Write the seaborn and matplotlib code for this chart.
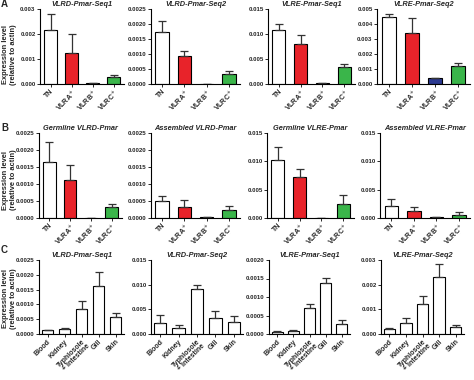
import matplotlib
matplotlib.use("Agg")
import matplotlib.pyplot as plt
import seaborn as sns
import numpy as np
import pandas as pd
from matplotlib.ticker import FormatStrFormatter

# ---------------- data ----------------
cells = ["TN", "VLRA$^{+}$", "VLRB$^{+}$", "VLRC$^{+}$"]
tissues = ["Blood", "Kidney", "Typhlosole\n+ Intestine", "Gill", "Skin"]

# Row A
a1_mean = [0.00215, 0.00125, 0.00003, 0.00028]
a1_err = [0.00065, 0.00075, 0.00001, 0.00007]
a2_mean = [0.00172, 0.00093, 0.0, 0.00033]
a2_err = [0.00038, 0.00018, 0.0, 0.00011]
a3_mean = [0.0109, 0.0080, 0.0002, 0.0035]
a3_err = [0.0010, 0.0018, 0.00005, 0.0006]
a4_mean = [0.00447, 0.0034, 0.00043, 0.00122]
a4_err = [0.00021, 0.00098, 0.0, 0.00021]

# Row B
b1_mean = [0.00166, 0.00112, 0.0, 0.00033]
b1_err = [0.00059, 0.00043, 0.0, 0.00007]
b2_mean = [0.00050, 0.00033, 0.00002, 0.00024]
b2_err = [0.00014, 0.00020, 0.0, 0.00010]
b3_mean = [0.0102, 0.0072, 0.0, 0.0025]
b3_err = [0.0024, 0.0014, 0.0, 0.0015]
b4_mean = [0.0022, 0.0013, 0.0002, 0.0006]
b4_err = [0.0011, 0.0006, 0.0, 0.0004]

# Row C
c1_mean = [0.00012, 0.00017, 0.00083, 0.00163, 0.00058]
c1_err = [0.00002, 0.00002, 0.00028, 0.00048, 0.00014]
c2_mean = [0.0023, 0.0012, 0.0091, 0.0032, 0.0024]
c2_err = [0.0016, 0.0006, 0.0008, 0.0014, 0.0012]
c3_mean = [0.00005, 0.00009, 0.00070, 0.00137, 0.00027]
c3_err = [0.00002, 0.00002, 0.00010, 0.00015, 0.00010]
c4_mean = [0.00022, 0.00045, 0.00122, 0.00230, 0.00028]
c4_err = [0.00002, 0.00021, 0.00031, 0.00053, 0.00008]

titles_a = ["VLRD-Pmar-Seq1", "VLRD-Pmar-Seq2", "VLRE-Pmar-Seq1", "VLRE-Pmar-Seq2"]
titles_b = ["Germline VLRD-Pmar", "Assembled VLRD-Pmar", "Germline VLRE-Pmar", "Assembled VLRE-Pmar"]
titles_c = ["VLRD-Pmar-Seq1", "VLRD-Pmar-Seq2", "VLRE-Pmar-Seq1", "VLRE-Pmar-Seq2"]

# (ymax, step, decimals)
scales_a = [(0.003, 0.001, 3), (0.0025, 0.0005, 4), (0.015, 0.005, 3), (0.005, 0.001, 3)]
scales_b = [(0.0025, 0.0005, 4), (0.0025, 0.0005, 4), (0.015, 0.005, 3), (0.015, 0.005, 3)]
scales_c = [(0.0025, 0.0005, 4), (0.015, 0.005, 3), (0.0020, 0.0005, 4), (0.003, 0.001, 3)]

cell_colors = ["#ffffff", "#e8232a", "#2b3990", "#3ab54a"]
tissue_colors = ["#ffffff"] * 5

# ---------------- figure ----------------
sns.set_theme(style="ticks")
plt.rcParams["font.family"] = ["Liberation Sans", "DejaVu Sans"]
W, H = 474, 380
fig = plt.figure(figsize=(W / 100, H / 100), dpi=100)


def rect(x0, x1, ytop, ybot):
    return [x0 / W, 1 - ybot / H, (x1 - x0) / W, (ybot - ytop) / H]


rows = [
    dict(means=[a1_mean, a2_mean, a3_mean, a4_mean], errs=[a1_err, a2_err, a3_err, a4_err],
         titles=titles_a, scales=scales_a, cats=cells, colors=cell_colors, bw=0.6,
         xs=[(40, 124), (151, 240), (268, 355), (377, 470)], ytop=9, ybot=84,
         letter="A", letter_y=4, label_y=55),
    dict(means=[b1_mean, b2_mean, b3_mean, b4_mean], errs=[b1_err, b2_err, b3_err, b4_err],
         titles=titles_b, scales=scales_b, cats=cells, colors=cell_colors, bw=0.6,
         xs=[(39, 122), (151, 240), (267, 354), (380, 470)], ytop=133, ybot=218,
         letter="B", letter_y=128, label_y=180),
    dict(means=[c1_mean, c2_mean, c3_mean, c4_mean], errs=[c1_err, c2_err, c3_err, c4_err],
         titles=titles_c, scales=scales_c, cats=tissues, colors=tissue_colors, bw=0.68,
         xs=[(39, 124), (151, 243), (269, 350), (381, 464)], ytop=260, ybot=334,
         letter="C", letter_y=250, label_y=299),
]

for r in rows:
    for i in range(4):
        x0, x1 = r["xs"][i]
        ax = fig.add_axes(rect(x0, x1, r["ytop"], r["ybot"]))
        hpx = r["ybot"] - r["ytop"]
        df = pd.DataFrame({"cat": r["cats"], "val": r["means"][i]})
        sns.barplot(data=df, x="cat", y="val", hue="cat", palette=r["colors"],
                    order=r["cats"], hue_order=r["cats"], legend=False,
                    saturation=1, edgecolor="black", linewidth=0.8,
                    width=r["bw"], ax=ax)
        n = len(r["cats"])
        ax.errorbar(np.arange(n), r["means"][i],
                    yerr=[np.zeros(n), r["errs"][i]], fmt="none",
                    ecolor="#333333", elinewidth=0.9, capsize=2.6, capthick=0.9)
        ymax, step, dec = r["scales"][i]
        ax.set_ylim(0, ymax)
        ax.set_yticks(np.arange(0, ymax + step / 2, step))
        ax.yaxis.set_major_formatter(FormatStrFormatter(f"%.{dec}f"))
        ax.set_xlim(-0.5, n - 0.5)
        sns.despine(ax=ax)
        for s in ["left", "bottom"]:
            ax.spines[s].set_linewidth(0.8)
            ax.spines[s].set_color("black")
        ax.tick_params(axis="y", labelsize=4.4, length=2, width=0.7, pad=1.2)
        ax.tick_params(axis="x", labelsize=5.0, length=2, width=0.7, pad=1)
        for lab in ax.get_yticklabels():
            lab.set_fontweight("bold")
        ax.set_xticks(np.arange(n))
        ax.set_xticklabels(r["cats"], rotation=45, ha="right",
                           rotation_mode="anchor", fontweight="bold",
                           linespacing=0.9)
        ax.set_xlabel("")
        ax.set_ylabel("")
        if i == 0:
            ax.set_ylabel("Expression level\n(relative to actin)", fontsize=5.4,
                          fontweight="bold", linespacing=1.05)
            ax.yaxis.label.set_verticalalignment("center")
            ax.yaxis.set_label_coords((9.5 - x0) / (x1 - x0),
                                      (r["ybot"] - r["label_y"]) / hpx)
        ax.set_title(r["titles"][i], fontsize=5.3, fontweight="bold",
                     fontstyle="italic", y=1 + 4.5 / hpx, va="center", pad=0)
        ax.patch.set_alpha(0)
    fig.text(1 / W, 1 - r["letter_y"] / H, r["letter"], fontsize=7,
             fontweight="bold", va="center", ha="left")

fig.savefig("out.png", dpi=100)
